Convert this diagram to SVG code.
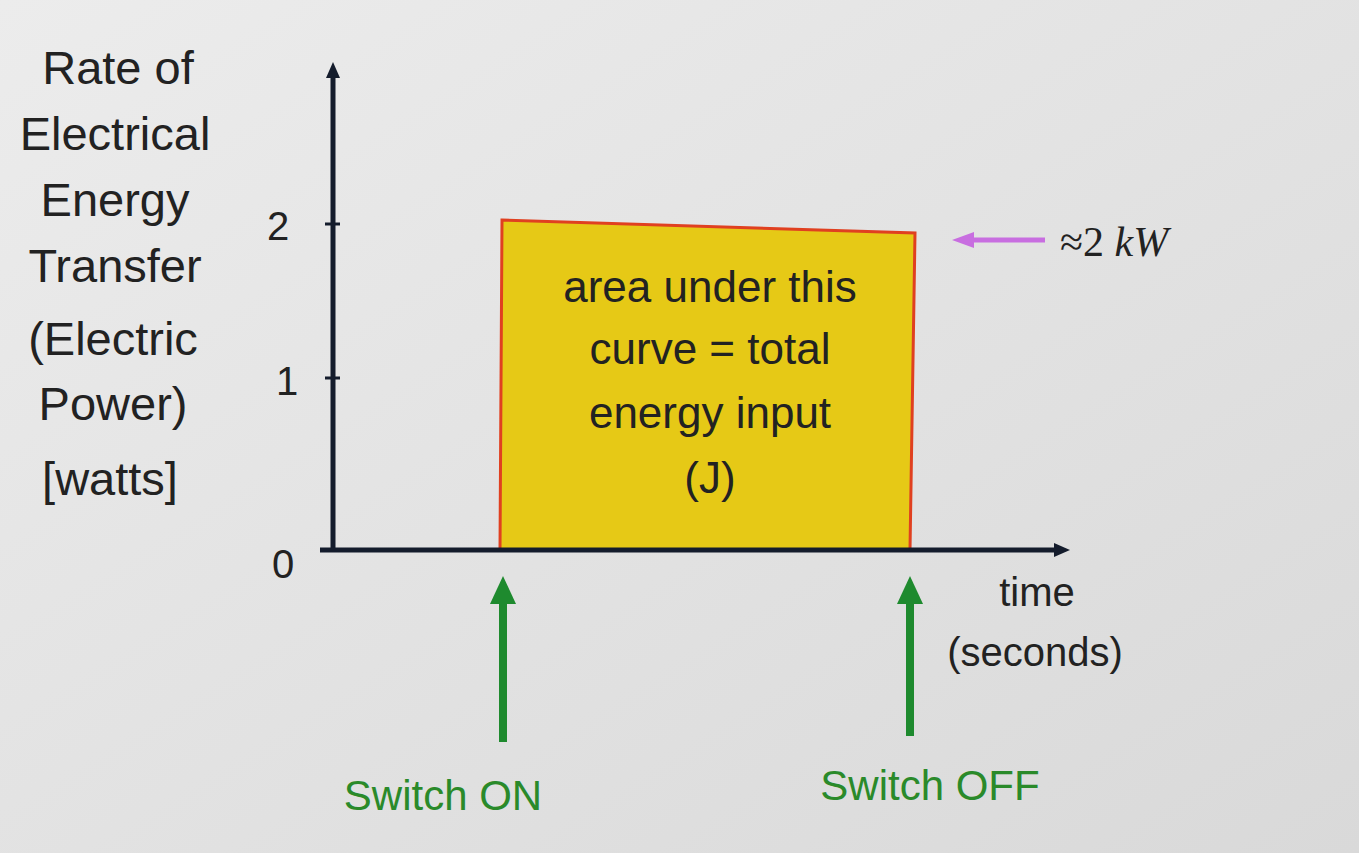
<svg xmlns="http://www.w3.org/2000/svg" width="1359" height="853" viewBox="0 0 1359 853">
<defs>
<linearGradient id="bg" x1="0" y1="0" x2="1" y2="1"><stop offset="0" stop-color="#ececec"/><stop offset="1" stop-color="#d9d9d9"/></linearGradient>
<marker id="ak" markerWidth="16" markerHeight="14" refX="4" refY="7" orient="auto" markerUnits="userSpaceOnUse" overflow="visible"><path d="M0,0 L16,7 L0,14 Z" fill="#141c2c"/></marker>
<marker id="ag" markerWidth="28" markerHeight="26" refX="4" refY="13" orient="auto" markerUnits="userSpaceOnUse" overflow="visible"><path d="M0,0 L28,13 L0,26 Z" fill="#1e8a2e"/></marker>
<marker id="ap" markerWidth="22" markerHeight="16" refX="4" refY="8" orient="auto" markerUnits="userSpaceOnUse" overflow="visible"><path d="M0,0 L22,8 L0,16 Z" fill="#c86ee0"/></marker>
<style>
.t{font-family:"Liberation Sans",Arial,sans-serif;fill:#222;text-anchor:middle}
.l{font-size:47px}
.b{font-size:44px}
.g{font-family:"Liberation Sans",Arial,sans-serif;fill:#2a8a2a;font-size:42px;text-anchor:middle}
</style>
</defs>
<rect width="1359" height="853" fill="url(#bg)"/>
<g id="ylabel" class="t l">
<text x="118" y="84">Rate of</text>
<text x="115" y="150">Electrical</text>
<text x="115" y="216">Energy</text>
<text x="115" y="282">Transfer</text>
<text x="113" y="355">(Electric</text>
<text x="113" y="420">Power)</text>
<text x="110" y="495">[watts]</text>
</g>
<g id="ticks" class="t" style="font-size:40px">
<text x="278" y="240">2</text><text x="287" y="395">1</text><text x="283" y="578">0</text>
</g>
<g id="box">
<path d="M502,220 L915,233 L910,550 L500,550 Z" fill="#e6c916" stroke="#e04020" stroke-width="3"/>
<g class="t b"><text x="710" y="302">area under this</text><text x="710" y="364">curve = total</text><text x="710" y="428">energy input</text><text x="710" y="493">(J)</text></g>
</g>
<g id="connectors" fill="none">
<line x1="333" y1="550" x2="333" y2="74" stroke="#141c2c" stroke-width="5" marker-end="url(#ak)"/>
<line x1="325" y1="224" x2="340" y2="224" stroke="#141c2c" stroke-width="3"/>
<line x1="325" y1="378" x2="340" y2="378" stroke="#141c2c" stroke-width="3"/>
<line x1="320" y1="550" x2="1058" y2="550" stroke="#141c2c" stroke-width="5" marker-end="url(#ak)"/>
<line x1="503" y1="742" x2="503" y2="600" stroke="#1e8a2e" stroke-width="8" marker-end="url(#ag)"/>
<line x1="910" y1="736" x2="910" y2="600" stroke="#1e8a2e" stroke-width="8" marker-end="url(#ag)"/>
<line x1="1045" y1="240" x2="970" y2="240" stroke="#c86ee0" stroke-width="5" marker-end="url(#ap)"/>
</g>
<text x="1060" y="256" style="font-family:'Liberation Serif',serif;font-size:42px;fill:#222">≈2 <tspan font-style="italic">kW</tspan></text>
<g class="t" style="font-size:40px"><text x="1037" y="606">time</text><text x="1035" y="666">(seconds)</text></g>
<text class="g" x="443" y="810">Switch ON</text>
<text class="g" x="930" y="800">Switch OFF</text>
</svg>
